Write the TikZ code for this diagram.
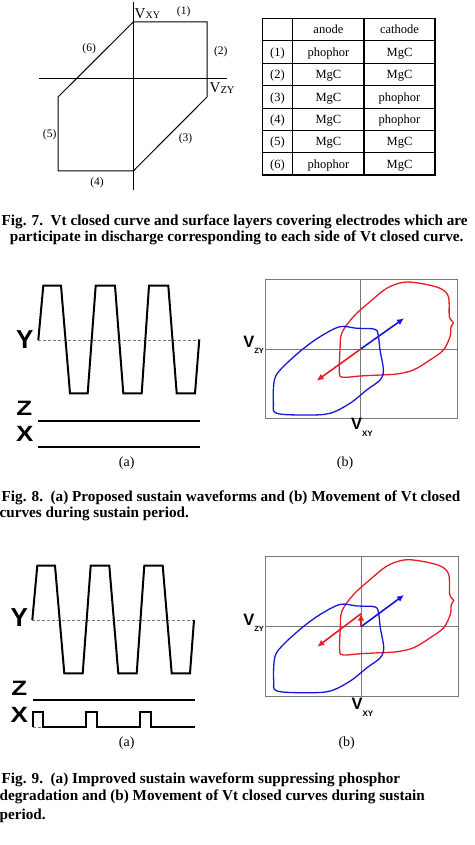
\documentclass[tikz,border=0pt]{standalone}
\usepackage{fontspec}
\setmainfont{Liberation Serif}
\newfontfamily\sansf{Liberation Sans}
\usetikzlibrary{arrows.meta}
\definecolor{cred}{RGB}{232,28,36}
\definecolor{cblue}{RGB}{22,22,215}
\definecolor{caxis}{RGB}{120,120,120}
\begin{document}
\begin{tikzpicture}[x=1pt,y=-1pt,
  capt/.style={inner sep=0pt,font=\fontsize{15.2}{16}\selectfont\bfseries},
  lbl/.style={inner sep=0pt,font=\fontsize{11.5}{11.5}\selectfont},
  cell/.style={inner sep=0pt,anchor=base,font=\fontsize{12.5}{12.5}\selectfont},
  thinln/.style={line width=1pt},
  tabln/.style={line width=1.2pt},
  wave/.style={line width=2pt,line join=miter},
  dashln/.style={line width=0.8pt,caxis,dash pattern=on 3pt off 2pt},
  sig/.style={inner sep=0pt,font=\sansf\bfseries\fontsize{26}{26}\selectfont},
  sub/.style={inner sep=0pt,font=\fontsize{14}{14}\selectfont},
  plotaxis/.style={line width=0.8pt,caxis},
  redc/.style={cred,line width=1.3pt},
  bluec/.style={cblue,line width=1.3pt},
  vlab/.style={inner sep=0pt,anchor=base west,font=\sansf\bfseries\fontsize{16.5}{16.5}\selectfont},
  arr/.style={line width=1.6pt,-{Latex[length=7pt,width=6.5pt]}}
]
\useasboundingbox (0,0) rectangle (474,845);

% ================= Fig. 7 =================
\draw[thinln] (133.3,2) -- (133.3,190);
\draw[thinln] (39,78.3) -- (227,78.3);
\coordinate (h1) at (133.3,22);
\coordinate (h2) at (207,22);
\coordinate (h3) at (207,97);
\coordinate (h4) at (133.3,171);
\coordinate (h5) at (58,171);
\coordinate (h6) at (58,97);
\draw[thinln,line join=miter] (h1) -- (h2) -- (h3) -- (h4) -- (h5) -- (h6) -- cycle;
\node[inner sep=0pt,anchor=base west,font=\fontsize{15}{15}\selectfont] (vxy7) at (134.5,18.3) {V{\fontsize{10}{10}\selectfont XY}};
\node[inner sep=0pt,anchor=base west,font=\fontsize{15}{15}\selectfont] (vzy7) at (209.5,92.7) {V{\fontsize{10.5}{10.5}\selectfont\raisebox{-1.2pt}{ZY}}};
\node[lbl] (s1) at (183.7,12) {(1)};
\node[lbl] (s2) at (220.8,51.3) {(2)};
\node[lbl] (s3) at (185.5,138.3) {(3)};
\node[lbl] (s4) at (97,182.5) {(4)};
\node[lbl] (s5) at (49.7,135) {(5)};
\node[lbl] (s6) at (89.2,48.3) {(6)};

% table
\draw[tabln] (262.7,18.3) rectangle (435,175);
\foreach \yy in {40.7,63.3,85.7,108.3,130.7,152.7} \draw[tabln] (262.7,\yy) -- (435,\yy);
\draw[tabln] (292.7,18.3) -- (292.7,175);
\draw[tabln] (364,18.3) -- (364,175);
\node[cell] (th1) at (328.4,33.8) {anode};
\node[cell] (th2) at (399.5,33.8) {cathode};
\node[cell] (r1a) at (277.5,56.3) {(1)};
\node[cell] (r1b) at (328.4,56.3) {phophor};
\node[cell] (r1c) at (399.5,56.3) {MgC};
\node[cell] (r2a) at (277.5,78.8) {(2)};
\node[cell] (r2b) at (328.4,78.8) {MgC};
\node[cell] (r2c) at (399.5,78.8) {MgC};
\node[cell] (r3a) at (277.5,101.3) {(3)};
\node[cell] (r3b) at (328.4,101.3) {MgC};
\node[cell] (r3c) at (399.5,101.3) {phophor};
\node[cell] (r4a) at (277.5,123.8) {(4)};
\node[cell] (r4b) at (328.4,123.8) {MgC};
\node[cell] (r4c) at (399.5,123.8) {phophor};
\node[cell] (r5a) at (277.5,146) {(5)};
\node[cell] (r5b) at (328.4,146) {MgC};
\node[cell] (r5c) at (399.5,146) {MgC};
\node[cell] (r6a) at (277.5,168.1) {(6)};
\node[cell] (r6b) at (328.4,168.1) {phophor};
\node[cell] (r6c) at (399.5,168.1) {MgC};

\node[capt,anchor=base west] (c7a) at (1.5,225.7) {Fig. 7.\ \ Vt closed curve and surface layers covering electrodes which are};
\node[capt,anchor=base] (c7b) at (236.7,241.3) {participate in discharge corresponding to each side of Vt closed curve.};

% ================= Fig. 8 (a) =================
\draw[dashln] (38.3,340) -- (199.3,340);
\draw[wave] (38.3,340) -- (43.3,285.7) -- (61,285.7) -- (70,393.3) -- (87.7,393.3) -- (95.7,285.7) -- (115,285.7) -- (123.3,393.3) -- (141.7,393.3) -- (149,285.7) -- (168.3,285.7) -- (176.7,393.3) -- (195,393.3) -- (199.3,339.3);
\draw[wave] (37.7,420.7) -- (200,420.7);
\draw[wave] (37.7,446.7) -- (200,446.7);
\node[sig] (y8) at (24.7,339.2) {Y};
\node[sig] (z8) at (24.2,408) {\scalebox{1}[0.8]{Z}};
\node[sig] (x8) at (24.7,434.2) {\scalebox{1}[0.85]{X}};
\node[sub] (a8) at (126.7,462.7) {(a)};

% ================= Fig. 8 (b) =================
\begin{scope}[shift={(360.7,349)}]
  \draw[plotaxis] (-95.7,-69.7) rectangle (96.6,69.3);
  \draw[plotaxis] (0,-69.7) -- (0,69.3);
  \draw[plotaxis] (-95.7,0) -- (96.6,0);
  \draw[redc] plot[smooth cycle,tension=0.55] coordinates {(42.7,-66.7) (59.3,-65.7) (79.3,-60.7) (87.7,-52.3) (88.7,-32.3) (92.7,-26.3) (90.3,-22.3) (89.3,-12.3) (82.7,1) (69.3,11) (52.7,21) (36,25) (19.3,26) (-0.7,27) (-17.3,28.3) (-21.3,24.3) (-20.7,1) (-19,-15.7) (-7.3,-32.3) (9.3,-47.3) (26,-60.7)};
  \draw[bluec] plot[smooth cycle,tension=0.55] coordinates {(-20.7,-22.3) (-4,-20.7) (14.3,-19.7) (17.7,-12.3) (19.3,1) (22.7,21) (19.3,31) (6,41) (-10.7,54.3) (-30.7,64.3) (-54,66) (-84,64.3) (-87.3,54.3) (-86.3,31) (-79,19.3) (-59,1) (-40.7,-12.3)};
  \coordinate (o8) at (0,0);
  \coordinate (b8) at (43.3,-30.7);
  \coordinate (r8) at (-44,31.7);
  \draw[arr,cblue] (o8) -- (b8);
  \draw[arr,cred] (o8) -- (r8);
  \node[vlab] (vzy8) at (-117.6,-1.7) {V\raisebox{-6.5pt}{\fontsize{7.5}{7.5}\selectfont ZY}};
  \node[vlab] (vxy8) at (-9.8,80.5) {V\raisebox{-6.8pt}{\fontsize{8}{8}\selectfont XY}};
\end{scope}
\node[sub] (b8l) at (345,462.7) {(b)};

\node[capt,anchor=base west] (c8a) at (1.5,501.7) {Fig. 8.\ \ (a) Proposed sustain waveforms and (b) Movement of Vt closed};
\node[capt,anchor=base west] (c8b) at (-0.5,517.3) {curves during sustain period.};

% ================= Fig. 9 (a) =================
\draw[dashln] (32.3,620) -- (194,620);
\draw[wave] (32.3,620) -- (37.3,565.7) -- (55,565.7) -- (64.3,673.3) -- (82.7,673.3) -- (90.7,565.7) -- (109.3,565.7) -- (118.3,673.3) -- (136.7,673.3) -- (144.3,565.7) -- (162.7,565.7) -- (171.7,673.3) -- (190,673.3) -- (194,620);
\draw[wave] (33.3,700) -- (195,700);
\draw[dashln] (32.7,727.3) -- (43.3,727.3);
\draw[wave] (32.7,727.3) -- (32.7,711.7) -- (43.3,711.7) -- (43.3,727.3) -- (86,727.3) -- (86,711.7) -- (97.3,711.7) -- (97.3,727.3) -- (140,727.3) -- (140,711.7) -- (150.7,711.7) -- (150.7,727.3) -- (195,727.3);
\node[sig] (y9) at (19.2,617.8) {Y};
\node[sig] (z9) at (19.2,688.3) {\scalebox{1}[0.8]{Z}};
\node[sig] (x9) at (19.2,715) {\scalebox{1}[0.85]{X}};
\node[sub] (a9) at (126.7,743.3) {(a)};

% ================= Fig. 9 (b) =================
\begin{scope}[shift={(361,626.7)}]
  \draw[plotaxis] (-96,-70.7) rectangle (97.3,70);
  \draw[plotaxis] (0,-70.7) -- (0,70);
  \draw[plotaxis] (-96,0) -- (97.3,0);
  \draw[redc] plot[smooth cycle,tension=0.55] coordinates {(42.7,-66.7) (59.3,-65.7) (79.3,-60.7) (87.7,-52.3) (88.7,-32.3) (92.7,-26.3) (90.3,-22.3) (89.3,-12.3) (82.7,1) (69.3,11) (52.7,21) (36,25) (19.3,26) (-0.7,27) (-17.3,28.3) (-21.3,24.3) (-20.7,1) (-19,-15.7) (-7.3,-32.3) (9.3,-47.3) (26,-60.7)};
  \draw[bluec] plot[smooth cycle,tension=0.55] coordinates {(-20.7,-22.3) (-4,-20.7) (14.3,-19.7) (17.7,-12.3) (19.3,1) (22.7,21) (19.3,31) (6,41) (-10.7,54.3) (-30.7,64.3) (-54,66) (-84,64.3) (-87.3,54.3) (-86.3,31) (-79,19.3) (-59,1) (-40.7,-12.3)};
  \coordinate (o9) at (0,0);
  \coordinate (b9) at (43,-31.7);
  \coordinate (t9) at (0,-13);
  \coordinate (r9) at (-43.7,20);
  \draw[arr,cblue] (o9) -- (b9);
  \draw[arr,cred] (o9) -- (t9);
  \draw[arr,cred] (t9) -- (r9);
  \node[vlab] (vzy9) at (-117.9,-1.7) {V\raisebox{-6.5pt}{\fontsize{7.5}{7.5}\selectfont ZY}};
  \node[vlab] (vxy9) at (-9.6,82.6) {V\raisebox{-6.8pt}{\fontsize{8}{8}\selectfont XY}};
\end{scope}
\node[sub] (b9l) at (346.7,743.3) {(b)};

\node[capt,anchor=base west] (c9a) at (1.5,783.3) {Fig. 9.\ \ (a) Improved sustain waveform suppressing phosphor};
\node[capt,anchor=base west] (c9b) at (-0.5,800.7) {degradation and (b) Movement of Vt closed curves during sustain};
\node[capt,anchor=base west] (c9c) at (-0.5,819) {period.};
\end{tikzpicture}
\end{document}
